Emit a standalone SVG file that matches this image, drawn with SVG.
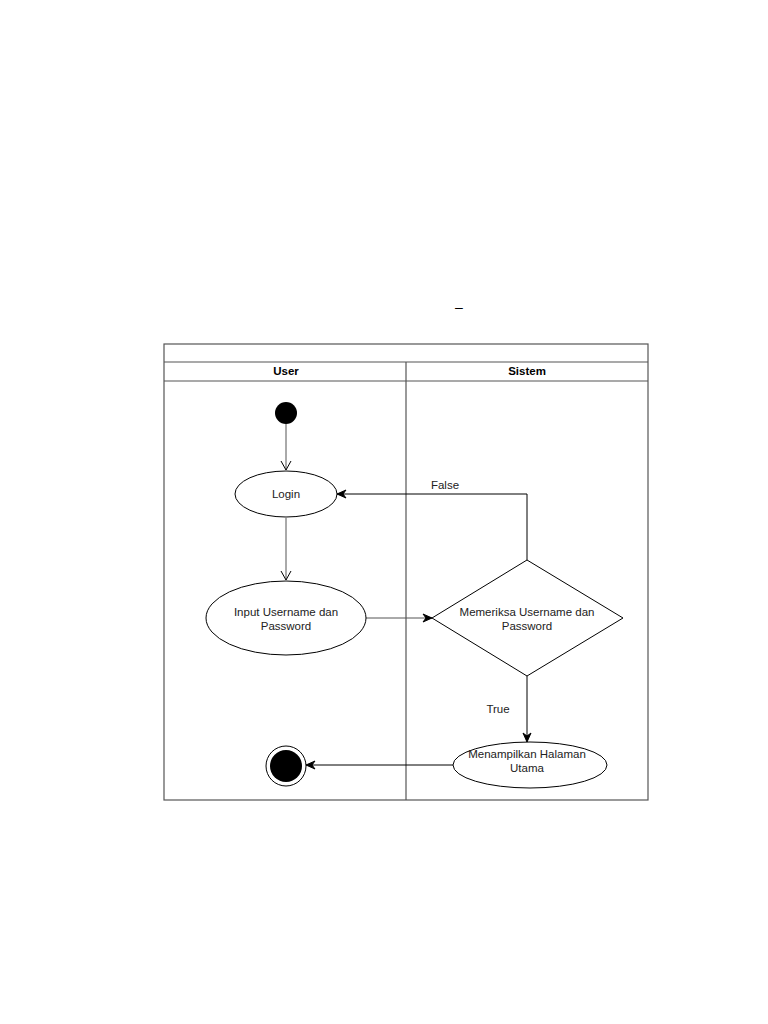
<svg xmlns="http://www.w3.org/2000/svg" width="768" height="1024" viewBox="0 0 768 1024">
<style>
text{font-family:"Liberation Sans",Arial,sans-serif;font-size:11.5px;fill:#222;text-anchor:middle}
.b{font-weight:bold;fill:#000}
.lane{fill:none;stroke:#555;stroke-width:1.2}
.node{fill:#fff;stroke:#000;stroke-width:1}
.c{fill:none;stroke:#000;stroke-width:1}
.g{stroke:#555}
</style>
<defs>
<marker id="open" markerWidth="12" markerHeight="12" refX="10" refY="6" orient="auto" markerUnits="userSpaceOnUse"><path d="M1,1 L10,6 L1,11" fill="none" stroke="#000" stroke-width="1"/></marker>
<marker id="fill" markerWidth="12" markerHeight="12" refX="10" refY="6" orient="auto" markerUnits="userSpaceOnUse"><path d="M1,2 L10,6 L1,10 L4,6 Z" fill="#000" stroke="#000" stroke-width="1"/></marker>
</defs>
<rect width="768" height="1024" fill="#fff"/>
<text x="459" y="312" style="font-size:14px;fill:#000">–</text>
<g id="pool">
<rect class="lane" x="164" y="344" width="484" height="456"/>
<line class="lane" x1="164" y1="362" x2="648" y2="362"/>
<line class="lane" x1="164" y1="381" x2="648" y2="381"/>
<line class="lane" x1="406" y1="362" x2="406" y2="800"/>
<text class="b" x="286" y="375">User</text>
<text class="b" x="527" y="375">Sistem</text>
</g>
<g id="connectors">
<line class="c g" x1="286" y1="424" x2="286" y2="470" marker-end="url(#open)"/>
<line class="c g" x1="286" y1="518" x2="286" y2="580" marker-end="url(#open)"/>
<line class="c g" x1="366" y1="618" x2="432" y2="618" marker-end="url(#fill)"/>
<polyline class="c" points="527,560 527,494 337,494" marker-end="url(#fill)"/>
<line class="c" x1="527" y1="676" x2="527" y2="742" marker-end="url(#fill)"/>
<line class="c" x1="453" y1="765" x2="306" y2="765" marker-end="url(#fill)"/>
<text x="445" y="489">False</text>
<text x="498" y="713">True</text>
</g>
<g id="start"><circle cx="286" cy="413" r="11" fill="#000"/></g>
<g id="login"><ellipse class="node" cx="286" cy="494" rx="51" ry="23"/><text x="286" y="498">Login</text></g>
<g id="input"><ellipse class="node" cx="286" cy="618" rx="80" ry="37"/><text x="286" y="616">Input Username dan</text><text x="286" y="630">Password</text></g>
<g id="check"><polygon class="node" points="527,560 623,618 527,676 432,618"/><text x="527" y="616">Memeriksa Username dan</text><text x="527" y="630">Password</text></g>
<g id="show"><ellipse class="node" cx="530" cy="765" rx="77" ry="23"/><text x="527" y="758">Menampilkan Halaman</text><text x="527" y="772">Utama</text></g>
<g id="end"><circle cx="286" cy="766" r="20" fill="#fff" stroke="#000" stroke-width="1"/><circle cx="286" cy="766" r="16" fill="#000"/></g>
</svg>
